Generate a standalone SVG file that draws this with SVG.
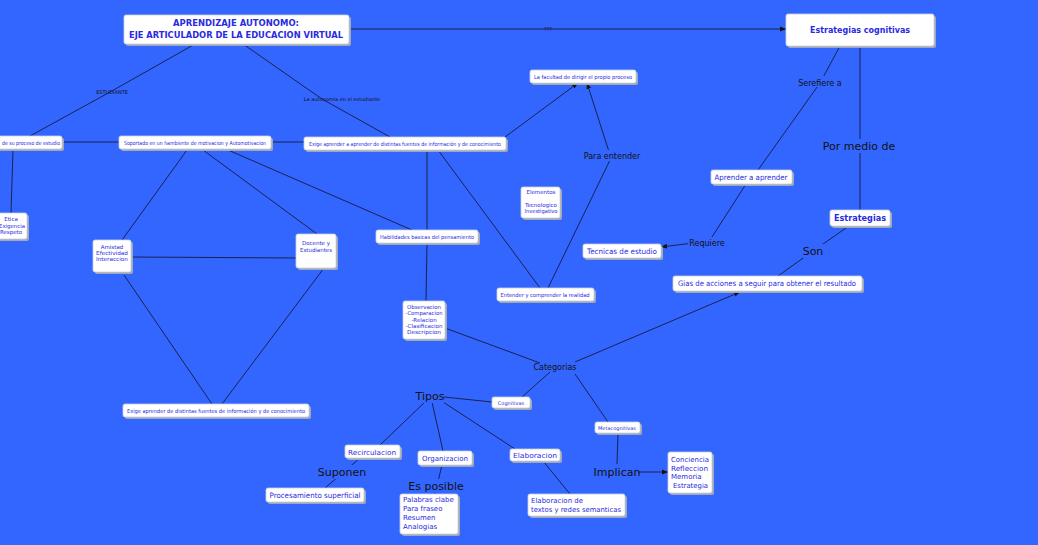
<svg xmlns="http://www.w3.org/2000/svg" width="1038" height="545" viewBox="0 0 1038 545">
<defs>
<marker id="ar" viewBox="0 0 10 10" refX="10" refY="5" markerWidth="6" markerHeight="6" orient="auto"><path d="M0,1L10,5L0,9z" fill="#111"/></marker>
</defs>
<style>
.b rect.s{fill:#a0a8b8}
.b rect.f{fill:#fff;stroke:#c8d0e0;stroke-width:0.8}
.b text{font-family:"DejaVu Sans",sans-serif;fill:#2a2ae0;font-size:5.5px;text-anchor:middle}
.l text{font-family:"DejaVu Sans",sans-serif;fill:#111;font-size:8px;text-anchor:middle}
.lg{font-size:11px!important}
.sm{font-size:5px!important}
.st{text-anchor:start!important;font-size:7px!important}
#c line,#c polyline{stroke:#1a2250;stroke-width:1;fill:none}
</style>
<rect width="1038" height="545" fill="#3366ff"/>
<g id="c">
<polyline points="349,29 786,29" marker-end="url(#ar)"/>
<polyline points="195,44 110,92 30,136"/>
<polyline points="243,44 322,99 390,137"/>
<line x1="62" y1="142" x2="119" y2="142"/>
<line x1="271" y1="142" x2="304" y2="142"/>
<line x1="13" y1="150" x2="11" y2="213"/>
<line x1="187" y1="150" x2="122" y2="240"/>
<line x1="203" y1="150" x2="317" y2="234"/>
<line x1="228" y1="150" x2="412" y2="230"/>
<line x1="131" y1="257" x2="296" y2="258"/>
<line x1="124" y1="275" x2="212" y2="404"/>
<line x1="324" y1="268" x2="222" y2="404"/>
<line x1="427" y1="150" x2="427" y2="230"/>
<line x1="427" y1="243" x2="426" y2="301"/>
<line x1="438" y1="150" x2="540" y2="288"/>
<polyline points="505,137 578,83" marker-end="url(#ar)"/>
<polyline points="548,288 611,158 587,83" marker-end="url(#ar)"/>
<line x1="445" y1="328" x2="540" y2="363"/>
<polyline points="575,362 740,292" marker-end="url(#ar)"/>
<line x1="550" y1="372" x2="522" y2="397"/>
<line x1="575" y1="374" x2="608" y2="422"/>
<line x1="444" y1="397" x2="492" y2="402"/>
<line x1="425" y1="402" x2="380" y2="445"/>
<line x1="432" y1="402" x2="443" y2="451"/>
<line x1="440" y1="400" x2="515" y2="449"/>
<polyline points="360,458 325,488"/>
<polyline points="442,465 435,494"/>
<line x1="543" y1="461" x2="570" y2="494"/>
<line x1="618" y1="433" x2="617" y2="464"/>
<polyline points="637,472 668,472" marker-end="url(#ar)"/>
<line x1="860" y1="46" x2="860" y2="210"/>
<polyline points="840,46 820,83 758,170"/>
<polyline points="746,184 712,237"/>
<polyline points="693,243 661,247" marker-end="url(#ar)"/>
<polyline points="846,228 813,251 778,276"/>
</g>
<g id="labels" class="l">
<rect x="800" y="76" width="42" height="11" fill="#3366ff"/>
<rect x="827" y="139" width="66" height="14" fill="#3366ff"/>
<rect x="584" y="150" width="56" height="11" fill="#3366ff"/>
<rect x="688" y="237" width="40" height="11" fill="#3366ff"/>
<rect x="802" y="244" width="24" height="14" fill="#3366ff"/>
<rect x="412" y="389" width="32" height="14" fill="#3366ff"/>
<rect x="320" y="465" width="44" height="14" fill="#3366ff"/>
<rect x="412" y="479" width="48" height="14" fill="#3366ff"/>
<rect x="596" y="465" width="42" height="14" fill="#3366ff"/>
<text x="548" y="31" class="sm">???</text>
<text x="112" y="94" class="sm">ESTUDIANTE</text>
<text x="342" y="101" class="sm">La autonomia en el estudiante</text>
<text x="612" y="159">Para entender</text>
<text x="820" y="86">Serefiere a</text>
<text x="859" y="150" class="lg">Por medio de</text>
<text x="707" y="246">Requiere</text>
<text x="813" y="255" class="lg">Son</text>
<text x="555" y="370">Categorias</text>
<text x="430" y="400" class="lg">Tipos</text>
<text x="342" y="476" class="lg">Suponen</text>
<text x="436" y="490" class="lg">Es posible</text>
<text x="617" y="476" class="lg">Implican</text>
</g>
<g id="n-title" class="b"><rect class="s" x="126" y="17" width="225" height="29" rx="2"/><rect class="f" x="124" y="15" width="225" height="29" rx="2"/><text x="236" y="26" font-weight="bold" style="font-size:9px" textLength="126" lengthAdjust="spacingAndGlyphs">APRENDIZAJE AUTONOMO:</text><text x="236" y="38" font-weight="bold" style="font-size:9px" textLength="214" lengthAdjust="spacingAndGlyphs">EJE ARTICULADOR DE LA EDUCACION VIRTUAL</text></g>
<g id="n-estcog" class="b"><rect class="s" x="788" y="16" width="148" height="32" rx="2"/><rect class="f" x="786" y="14" width="148" height="32" rx="2"/><text x="860" y="33" font-weight="bold" style="font-size:9.5px" textLength="100" lengthAdjust="spacingAndGlyphs">Estrategias cognitivas</text></g>
<g id="n-proceso" class="b"><rect class="s" x="-3" y="138" width="67" height="13" rx="2"/><rect class="f" x="-5" y="136" width="67" height="13" rx="2"/><text x="31" y="145" textLength="58" lengthAdjust="spacingAndGlyphs">de su proceso de estudio</text></g>
<g id="n-soportado" class="b"><rect class="s" x="121" y="138" width="152" height="13" rx="2"/><rect class="f" x="119" y="136" width="152" height="13" rx="2"/><text x="195" y="145" textLength="142" lengthAdjust="spacingAndGlyphs">Soportado en un hambiente de motivacion y Automotivacion</text></g>
<g id="n-exige" class="b"><rect class="s" x="306" y="139" width="202" height="13" rx="2"/><rect class="f" x="304" y="137" width="202" height="13" rx="2"/><text x="405" y="146" textLength="192" lengthAdjust="spacingAndGlyphs">Exige aprender a aprender de distintas fuentes de información y de conocimiento</text></g>
<g id="n-facultad" class="b"><rect class="s" x="532" y="72" width="106" height="13" rx="2"/><rect class="f" x="530" y="70" width="106" height="13" rx="2"/><text x="583" y="79" textLength="98" lengthAdjust="spacingAndGlyphs">La facultad de dirigir el propio proceso</text></g>
<g id="n-etica" class="b"><rect class="s" x="-3" y="215" width="32" height="26" rx="2"/><rect class="f" x="-5" y="213" width="32" height="26" rx="2"/><text x="11" y="221">Etica</text><text x="12" y="228" textLength="26" lengthAdjust="spacingAndGlyphs">Exigencia</text><text x="11" y="234">Respeto</text></g>
<g id="n-amistad" class="b"><rect class="s" x="95" y="242" width="38" height="32" rx="2"/><rect class="f" x="93" y="240" width="38" height="32" rx="2"/><text x="112" y="249">Amistad</text><text x="112" y="255" textLength="32" lengthAdjust="spacingAndGlyphs">Efectividad</text><text x="112" y="261" textLength="32" lengthAdjust="spacingAndGlyphs">Interaccion</text></g>
<g id="n-docente" class="b"><rect class="s" x="298" y="236" width="40" height="34" rx="2"/><rect class="f" x="296" y="234" width="40" height="34" rx="2"/><text x="316" y="245">Docente y</text><text x="316" y="252" textLength="32" lengthAdjust="spacingAndGlyphs">Estudiantes</text></g>
<g id="n-habil" class="b"><rect class="s" x="378" y="232" width="102" height="13" rx="2"/><rect class="f" x="376" y="230" width="102" height="13" rx="2"/><text x="427" y="239" textLength="94" lengthAdjust="spacingAndGlyphs">Habilidades basicas del pensamiento</text></g>
<g id="n-obs" class="b"><rect class="s" x="405" y="303" width="42" height="38" rx="2"/><rect class="f" x="403" y="301" width="42" height="38" rx="2"/><text x="424" y="309" textLength="34" lengthAdjust="spacingAndGlyphs">Observacion</text><text x="424" y="315" textLength="37" lengthAdjust="spacingAndGlyphs">-Comparacion</text><text x="424" y="322">-Relacion</text><text x="424" y="328" textLength="37" lengthAdjust="spacingAndGlyphs">-Clasificacion</text><text x="424" y="334" textLength="34" lengthAdjust="spacingAndGlyphs">Descripcion</text></g>
<g id="n-elem" class="b"><rect class="s" x="523" y="189" width="39" height="31" rx="2"/><rect class="f" x="521" y="187" width="39" height="31" rx="2"/><text x="541" y="194">Elementos</text><text x="541" y="207" textLength="32" lengthAdjust="spacingAndGlyphs">Tecnologico</text><text x="541" y="213" textLength="33" lengthAdjust="spacingAndGlyphs">Investigativo</text></g>
<g id="n-entender" class="b"><rect class="s" x="499" y="290" width="97" height="13" rx="2"/><rect class="f" x="497" y="288" width="97" height="13" rx="2"/><text x="545" y="297" textLength="89" lengthAdjust="spacingAndGlyphs">Entender y comprender la realidad</text></g>
<g id="n-exige2" class="b"><rect class="s" x="125" y="406" width="186" height="13" rx="2"/><rect class="f" x="123" y="404" width="186" height="13" rx="2"/><text x="216" y="413" textLength="178" lengthAdjust="spacingAndGlyphs">Exige aprender de distintas fuentes de información y de conocimiento</text></g>
<g id="n-tecnicas" class="b"><rect class="s" x="585" y="246" width="78" height="14" rx="2"/><rect class="f" x="583" y="244" width="78" height="14" rx="2"/><text x="622" y="254" style="font-size:7.5px" textLength="70" lengthAdjust="spacingAndGlyphs">Tecnicas de estudio</text></g>
<g id="n-aprender" class="b"><rect class="s" x="713" y="172" width="81" height="14" rx="2"/><rect class="f" x="711" y="170" width="81" height="14" rx="2"/><text x="751" y="180" style="font-size:7.5px" textLength="73" lengthAdjust="spacingAndGlyphs">Aprender a aprender</text></g>
<g id="n-estrategias" class="b"><rect class="s" x="832" y="212" width="60" height="16" rx="2"/><rect class="f" x="830" y="210" width="60" height="16" rx="2"/><text x="860" y="221" font-weight="bold" style="font-size:9px" textLength="52" lengthAdjust="spacingAndGlyphs">Estrategias</text></g>
<g id="n-gias" class="b"><rect class="s" x="675" y="278" width="189" height="15" rx="2"/><rect class="f" x="673" y="276" width="189" height="15" rx="2"/><text x="767" y="286" style="font-size:7.5px" textLength="178" lengthAdjust="spacingAndGlyphs">Gias de acciones a seguir para obtener el resultado</text></g>
<g id="n-cogn" class="b"><rect class="s" x="494" y="399" width="38" height="11" rx="2"/><rect class="f" x="492" y="397" width="38" height="11" rx="2"/><text x="511" y="404.5" class="sm">Cognitivas</text></g>
<g id="n-meta" class="b"><rect class="s" x="597" y="424" width="45" height="11" rx="2"/><rect class="f" x="595" y="422" width="45" height="11" rx="2"/><text x="617" y="429.5" class="sm">Metacognitivas</text></g>
<g id="n-recirc" class="b"><rect class="s" x="347" y="447" width="55" height="13" rx="2"/><rect class="f" x="345" y="445" width="55" height="13" rx="2"/><text x="372" y="454.5" style="font-size:7px" textLength="48" lengthAdjust="spacingAndGlyphs">Recirculacion</text></g>
<g id="n-org" class="b"><rect class="s" x="420" y="453" width="54" height="14" rx="2"/><rect class="f" x="418" y="451" width="54" height="14" rx="2"/><text x="445" y="461" style="font-size:7px" textLength="46" lengthAdjust="spacingAndGlyphs">Organizacion</text></g>
<g id="n-elab" class="b"><rect class="s" x="512" y="451" width="50" height="12" rx="2"/><rect class="f" x="510" y="449" width="50" height="12" rx="2"/><text x="535" y="458" style="font-size:7px" textLength="44" lengthAdjust="spacingAndGlyphs">Elaboracion</text></g>
<g id="n-proc" class="b"><rect class="s" x="268" y="490" width="98" height="14" rx="2"/><rect class="f" x="266" y="488" width="98" height="14" rx="2"/><text x="315" y="498" style="font-size:7.5px" textLength="91" lengthAdjust="spacingAndGlyphs">Procesamiento superficial</text></g>
<g id="n-palabras" class="b"><rect class="s" x="402" y="496" width="58" height="40" rx="2"/><rect class="f" x="400" y="494" width="58" height="40" rx="2"/><text x="403" y="502" class="st">Palabras clabe</text><text x="403" y="511" class="st">Para fraseo</text><text x="403" y="520" class="st">Resumen</text><text x="403" y="529" class="st">Analogias</text></g>
<g id="n-elabde" class="b"><rect class="s" x="530" y="496" width="97" height="22" rx="2"/><rect class="f" x="528" y="494" width="97" height="22" rx="2"/><text x="531" y="503" class="st">Elaboracion de</text><text x="531" y="512" class="st" textLength="90" lengthAdjust="spacingAndGlyphs">textos y redes semanticas</text></g>
<g id="n-conciencia" class="b"><rect class="s" x="670" y="454" width="44" height="41" rx="2"/><rect class="f" x="668" y="452" width="44" height="41" rx="2"/><text x="671" y="462" class="st" textLength="38" lengthAdjust="spacingAndGlyphs">Conciencia</text><text x="671" y="471" class="st" textLength="37" lengthAdjust="spacingAndGlyphs">Refleccion</text><text x="671" y="479" class="st">Memoria</text><text x="673" y="488" class="st" textLength="35" lengthAdjust="spacingAndGlyphs">Estrategia</text></g>
</svg>
